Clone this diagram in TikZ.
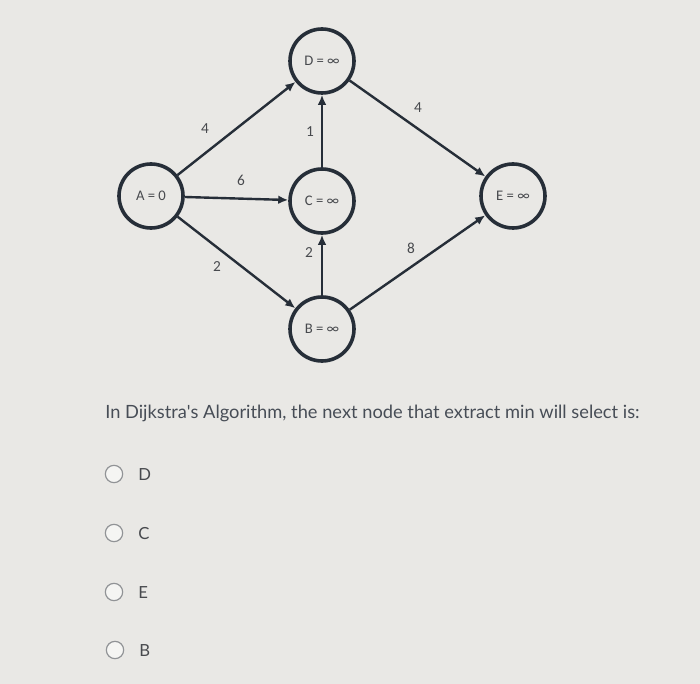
\documentclass[tikz,border=0pt]{standalone}
\usepackage{fontspec}
\setmainfont{Lato}
\newfontfamily\graphfont{Carlito}
\usetikzlibrary{arrows.meta}

\definecolor{paper}{RGB}{233,232,229}
\definecolor{ink}{RGB}{38,46,56}
\definecolor{labelgray}{RGB}{72,74,78}
\definecolor{radiogray}{RGB}{145,147,150}

\tikzset{
	vertex/.style={circle,draw=ink,line width=2.7pt,minimum size=48pt,inner sep=0pt,
		text=labelgray,font=\graphfont\fontsize{11}{13}\selectfont},
	link/.style={draw=ink,line width=1.8pt,-{Latex[length=7.5pt,width=6.5pt]}},
	weight/.style={text=labelgray,font=\graphfont\fontsize{11.5}{13}\selectfont,inner sep=0.75pt},
	radio/.style={circle,draw=radiogray,line width=0.9pt,fill=white!55!paper,minimum size=13pt,inner sep=0pt},
	choice/.style={anchor=west,text=labelgray,font=\fontsize{12.5}{15}\selectfont,inner sep=0.75pt}
}

\begin{document}
\begin{tikzpicture}[x=0.75pt,y=0.75pt,yscale=-1,xscale=1]
\useasboundingbox (0,0) rectangle (700,684);
\fill[paper] (0,0) rectangle (700,684);

%Vertices
	\node[vertex] (A) at (151,196) {A = 0};
	\node[vertex] (D) at (322,61) {D = ∞};
	\node[vertex] (C) at (322,201) {C = ∞};
	\node[vertex] (B) at (322,329) {B = ∞};
	\node[vertex] (E) at (513,196) {E = ∞};

%Edges
	\draw[link] (A) -- (D);
	\draw[link] (A) -- (C);
	\draw[link] (A) -- (B);
	\draw[link] (C) -- (D);
	\draw[link] (B) -- (C);
	\draw[link] (D) -- (E);
	\draw[link] (B) -- (E);

% Text Node
	\node[weight] (wAD) at (205,129) {4};
% Text Node
	\node[weight] (wAC) at (241,180) {6};
% Text Node
	\node[weight] (wAB) at (217,267) {2};
% Text Node
	\node[weight] (wCD) at (310,132) {1};
% Text Node
	\node[weight] (wBC) at (309,253) {2};
% Text Node
	\node[weight] (wDE) at (418,108) {4};
% Text Node
	\node[weight] (wBE) at (411,248) {8};

% Text Node
	\node[anchor=west,inner sep=0.75pt,text=ink!85!white,font=\fontsize{13.7}{16}\selectfont] (question) at (104,413)
		{In Dijkstra\textquotesingle s Algorithm, the next node that extract min will select is:};

%Answer choices
	\node[radio] (rD) at (114,474) {};
	\node[choice] (cD) at (137,475) {D};
	\node[radio] (rC) at (114,533) {};
	\node[choice] (cC) at (137,534) {C};
	\node[radio] (rE) at (114,592) {};
	\node[choice] (cE) at (137,593) {E};
	\node[radio] (rB) at (115,650) {};
	\node[choice] (cB) at (138,651) {B};

\end{tikzpicture}
\end{document}
